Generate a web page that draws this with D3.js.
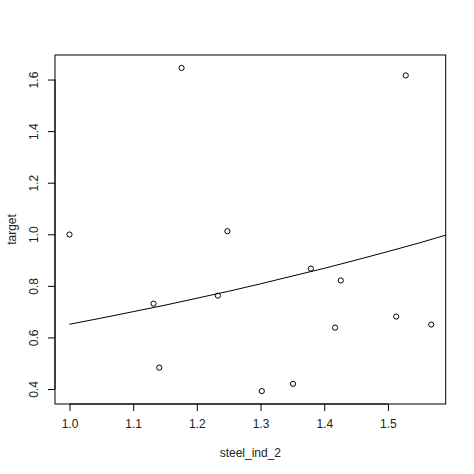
<!DOCTYPE html>
<html><head><meta charset="utf-8">
<script src="https://cdn.jsdelivr.net/npm/d3@7"></script>
<style>
html,body{margin:0;padding:0;background:#fff;}
text{font-family:"Liberation Sans",Arial,sans-serif;fill:#222;}
</style></head>
<body><svg id="c" width="474" height="474"></svg>
<script>
// Data
const steelInd2 = [1.000, 1.132, 1.141, 1.176, 1.233, 1.248, 1.302, 1.351, 1.379, 1.426, 1.417, 1.513, 1.528, 1.568];
const target    = [0.999, 0.731, 0.483, 1.645, 0.762, 1.012, 0.392, 0.420, 0.867, 0.821, 0.638, 0.681, 1.616, 0.650];
// Fitted curve
const fitX = [1.00, 1.05, 1.10, 1.15, 1.20, 1.25, 1.30, 1.35, 1.40, 1.45, 1.50, 1.55, 1.5914];
const fitY = [0.651, 0.675, 0.700, 0.725, 0.752, 0.779, 0.808, 0.838, 0.868, 0.900, 0.933, 0.967, 0.997];
const xTicks = [1.0, 1.1, 1.2, 1.3, 1.4, 1.5];
const yTicks = [0.4, 0.6, 0.8, 1.0, 1.2, 1.4, 1.6];

const svg = d3.select("#c");
const L = 55, R = 445.7, T = 55, B = 404;

function ext(a){ const [lo,hi]=d3.extent(a); const d=(hi-lo)*0.04; return [lo-d, hi+d]; }
const x = d3.scaleLinear().domain(ext(steelInd2)).range([L, R]);
const y = d3.scaleLinear().domain(ext(target)).range([B, T]);

// box
svg.append("rect").attr("x", L).attr("y", T).attr("width", R-L).attr("height", B-T)
  .attr("fill", "none").attr("stroke", "#000").attr("stroke-width", 1);

// x axis
const gx = svg.append("g").attr("transform", `translate(0,${B})`)
  .call(d3.axisBottom(x).tickValues(xTicks).tickFormat(d3.format(".1f")).tickSizeInner(7).tickSizeOuter(0).tickPadding(8));
gx.select(".domain").attr("d", `M${x(xTicks[0])},0H${x(xTicks[xTicks.length-1])}`).attr("stroke","#000");
gx.selectAll(".tick line").attr("stroke","#000");
gx.selectAll("text").attr("font-size", 12).attr("fill","#222").style("font-family","Liberation Sans, Arial, sans-serif");

// y axis
const gy = svg.append("g").attr("transform", `translate(${L},0)`)
  .call(d3.axisLeft(y).tickValues(yTicks).tickFormat(d3.format(".1f")).tickSizeInner(7).tickSizeOuter(0));
gy.select(".domain").attr("d", `M0,${y(yTicks[0])}V${y(yTicks[yTicks.length-1])}`).attr("stroke","#000");
gy.selectAll(".tick line").attr("stroke","#000");
gy.selectAll(".tick text").attr("x", null).attr("dy", null)
  .attr("text-anchor","middle").attr("dominant-baseline","central")
  .attr("transform","translate(-21,0) rotate(-90)")
  .attr("font-size", 12).attr("fill","#222").style("font-family","Liberation Sans, Arial, sans-serif");

// axis titles
svg.append("text").attr("x", (L+R)/2).attr("y", 453).attr("text-anchor","middle")
  .attr("dominant-baseline","central").attr("font-size", 12).text("steel_ind_2");
svg.append("text").attr("transform", `translate(12,${(T+B)/2}) rotate(-90)`).attr("text-anchor","middle")
  .attr("dominant-baseline","central").attr("font-size", 12).text("target");

// fitted curve
const line = d3.line().x((d,i)=>x(fitX[i])).y((d,i)=>y(fitY[i])).curve(d3.curveMonotoneX);
svg.append("path").attr("d", line(fitX)).attr("fill","none").attr("stroke","#000").attr("stroke-width",1);

// points
svg.append("g").selectAll("circle").data(steelInd2).join("circle")
  .attr("cx", (d)=>x(d)).attr("cy", (d,i)=>y(target[i])).attr("r", 2.6)
  .attr("fill","none").attr("stroke","#000").attr("stroke-width",1);
</script></body></html>
